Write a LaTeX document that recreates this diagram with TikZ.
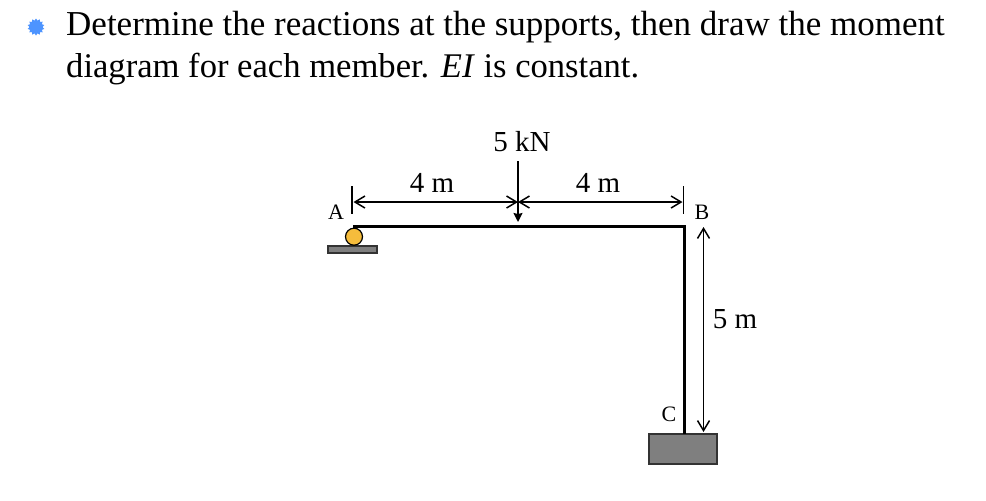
\documentclass[tikz,border=0pt]{standalone}
\usepackage{fontspec}
\setmainfont{Liberation Serif}
\usetikzlibrary{arrows.meta,shapes.geometric}
\definecolor{bulletblue}{HTML}{4D94FF}
\definecolor{rollerfill}{HTML}{F5BC3C}
\definecolor{supportgray}{HTML}{7F7F7F}
\tikzset{
  x=1pt,y=-1pt,
  heading/.style={anchor=base west,inner sep=0pt},
  lab/.style={inner sep=0pt,font=\fontsize{29}{29}\selectfont},
  smalllab/.style={inner sep=0pt,font=\fontsize{22}{22}\selectfont},
  member/.style={line width=3.2pt,line join=miter},
  dimline/.style={line width=1.5pt,{Straight Barb[length=10pt,width=12pt,line width=1.5pt]}-{Straight Barb[length=10pt,width=12pt,line width=1.5pt]}},
  extline/.style={line width=1.3pt},
  loadline/.style={line width=1.6pt,-{Stealth[length=9pt,width=9pt,inset=1pt]}},
  support/.style={draw=black!80,line width=1.2pt,fill=supportgray,inner sep=0pt}
}
\begin{document}
\begin{tikzpicture}
\useasboundingbox (0,0) rectangle (986,501);
\node[star,star points=14,star point ratio=1.3,minimum size=17pt,inner sep=0pt,fill=bulletblue] (bullet) at (36,27) {};
\node[heading,font=\fontsize{35}{35}\selectfont] (line1) at (66,35) {Determine the reactions at the supports, then draw the moment};
\node[heading,font=\fontsize{34.6}{35}\selectfont] (line2) at (66,77) {diagram for each member. \textit{EI} is constant.};
% coordinates
\coordinate (A) at (353,226.5);
\coordinate (B) at (684.5,226.5);
\coordinate (C) at (684.5,434);
\coordinate (dA) at (353.5,202);
\coordinate (dP) at (518,202);
\coordinate (dB) at (682.5,202);
\coordinate (eAt) at (352,186);
\coordinate (eAb) at (352,214);
\coordinate (eBt) at (683.5,186);
\coordinate (eBb) at (683.5,214);
\coordinate (Pt) at (518,161);
\coordinate (Pb) at (518,222);
\coordinate (vT) at (703.5,227);
\coordinate (vB) at (703.5,432);
% supports
\node[support,minimum width=49pt,minimum height=7pt] (base) at (352.5,249.5) {};
\node[support,minimum width=68pt,minimum height=30pt] (fixed) at (683,449) {};
\node[circle,draw=black,line width=1.2pt,fill=rollerfill,minimum size=17pt,inner sep=0pt] (roller) at (354,236.7) {};
% members
\draw[member] (A) -- (B) -- (C);
% dimensions
\draw[extline] (eAt) -- (eAb);
\draw[extline] (eBt) -- (eBb);
\draw[dimline] (dA) -- (dP);
\draw[dimline] (dP) -- (dB);
\draw[dimline] (vT) -- (vB);
\draw[loadline] (Pt) -- (Pb);
% labels
\node[lab] (lP) at (522,142) {5 kN};
\node[lab] (l1) at (432,183) {4 m};
\node[lab] (l2) at (598,183) {4 m};
\node[lab] (l3) at (735,319) {5 m};
\node[smalllab] (lA) at (336,212) {A};
\node[smalllab] (lB) at (702,212) {B};
\node[smalllab] (lC) at (669,414) {C};
\end{tikzpicture}
\end{document}
